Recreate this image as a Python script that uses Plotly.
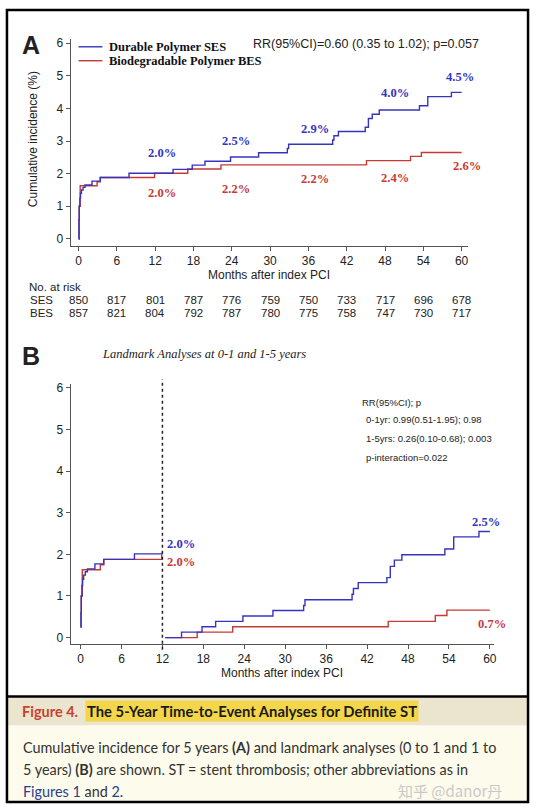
import plotly.graph_objects as go

W, H = 539, 809

# ---------------- data ----------------
months_ticks = [0, 6, 12, 18, 24, 30, 36, 42, 48, 54, 60]
at_risk_ses = [850, 817, 801, 787, 776, 759, 750, 733, 717, 696, 678]
at_risk_bes = [857, 821, 804, 792, 787, 780, 775, 758, 747, 730, 717]

# Panel A: 5-year cumulative incidence
ses_t_A = [0, 0.05, 0.1, 0.2, 0.3, 0.45, 0.7, 1.0, 2.1, 3.4, 7.9, 14.8, 17.8, 19.8, 23.8, 28.2,
           32.7, 32.9, 39.8, 40.0, 40.7, 44.9, 45.4, 46.0, 47.1, 53.4, 54.7, 58.4, 60]
ses_y_A = [0, 0.6, 1.0, 1.25, 1.4, 1.5, 1.58, 1.65, 1.77, 1.88, 2.01, 2.13, 2.26, 2.38, 2.51, 2.64,
           2.77, 2.90, 3.03, 3.16, 3.29, 3.42, 3.69, 3.82, 3.95, 4.08, 4.36, 4.49, 4.49]
bes_t_A = [0, 0.1, 0.25, 2.9, 3.4, 11.9, 17.1, 22.3, 45.1, 52.0, 53.7, 60]
bes_y_A = [0, 1.0, 1.63, 1.75, 1.88, 2.01, 2.14, 2.27, 2.40, 2.53, 2.65, 2.65]

# Panel B: landmark 0-1 year
ses_t_B1 = [0, 0.05, 0.1, 0.2, 0.3, 0.45, 0.7, 1.0, 2.1, 3.4, 7.9, 11.95, 12]
ses_y_B1 = [0.25, 0.6, 1.0, 1.25, 1.4, 1.5, 1.58, 1.65, 1.77, 1.88, 2.01, 2.03, 2.03]
bes_t_B1 = [0, 0.1, 0.25, 2.9, 3.4, 11.9, 12]
bes_y_B1 = [0.25, 1.0, 1.63, 1.75, 1.88, 1.98, 1.98]
# Panel B: landmark 1-5 years
ses_t_B2 = [12.4, 14.8, 17.8, 19.8, 23.8, 28.2, 32.7, 32.9, 39.8, 40.0, 40.7, 44.9, 45.4, 46.0,
            47.1, 53.4, 54.7, 58.4, 60]
ses_y_B2 = [0, 0.13, 0.26, 0.39, 0.52, 0.65, 0.77, 0.91, 1.04, 1.18, 1.32, 1.44, 1.71, 1.86,
            1.99, 2.13, 2.42, 2.55, 2.55]
bes_t_B2 = [12.4, 17.1, 22.3, 45.1, 52.0, 53.7, 60]
bes_y_B2 = [0, 0.13, 0.26, 0.39, 0.53, 0.66, 0.66]

# value labels (text, x, y)
labels_A_ses = [("2.0%", 13.1, 2.63), ("2.5%", 24.6, 3.01), ("2.9%", 37.0, 3.37),
                ("4.0%", 49.6, 4.47), ("4.5%", 59.8, 4.96)]
labels_A_bes = [("2.0%", 13.1, 1.40), ("2.2%", 24.6, 1.54), ("2.2%", 37.0, 1.84),
                ("2.4%", 49.6, 1.88), ("2.6%", 60.8, 2.24)]
labels_B = [("2.0%", 12.4, 2.25, "ses"), ("2.0%", 12.4, 1.82, "bes"),
            ("2.5%", 59.4, 2.77, "ses"), ("0.7%", 60.3, 0.33, "bes")]

BLUE = "#3434be"
RED = "#c53a35"
SANS = "Liberation Sans, Arial, sans-serif"
SERIF = "Liberation Serif, Times New Roman, serif"
CAP = "Lato, Open Sans, sans-serif"


def px(x):
    return x / W


def py(y):
    return 1 - y / H


fig = go.Figure()

lw = 1.4
# Panel A
fig.add_trace(go.Scatter(x=bes_t_A, y=bes_y_A, mode="lines", line=dict(color=RED, width=lw, shape="hv"),
                         xaxis="x", yaxis="y", showlegend=False))
fig.add_trace(go.Scatter(x=ses_t_A, y=ses_y_A, mode="lines", line=dict(color=BLUE, width=lw, shape="hv"),
                         xaxis="x", yaxis="y", showlegend=False))
# Panel B
for t, y, c in [(bes_t_B1, bes_y_B1, RED), (ses_t_B1, ses_y_B1, BLUE),
                (bes_t_B2, bes_y_B2, RED), (ses_t_B2, ses_y_B2, BLUE)]:
    fig.add_trace(go.Scatter(x=t, y=y, mode="lines", line=dict(color=c, width=lw, shape="hv"),
                             xaxis="x2", yaxis="y2", showlegend=False))

axis_common = dict(showline=True, linecolor="#555555", linewidth=1, ticks="outside", ticklen=4,
                   tickcolor="#555555", showgrid=False, zeroline=False,
                   tickfont=dict(family=SANS, size=12, color="#222222"))

fig.update_layout(
    width=W, height=H, margin=dict(l=0, r=0, t=0, b=0),
    paper_bgcolor="white", plot_bgcolor="white",
    xaxis=dict(domain=[px(71), px(471)], range=[-1.25, 61.06], tickvals=months_ticks,
               anchor="y", **axis_common),
    yaxis=dict(domain=[py(244), py(36)], range=[-0.21, 6.13], tickvals=[0, 1, 2, 3, 4, 5, 6],
               anchor="x", **axis_common),
    xaxis2=dict(domain=[px(71), px(497)], range=[-1.46, 60.64], tickvals=months_ticks,
                anchor="y2", **axis_common),
    yaxis2=dict(domain=[py(644), py(383)], range=[-0.15, 6.09], tickvals=[0, 1, 2, 3, 4, 5, 6],
                anchor="x2", **axis_common),
)

ann = []


def txt(text, x, y, size=12, family=SANS, color="#222222", xanchor="center", yanchor="middle",
        xref="paper", yref="paper", **kw):
    ann.append(dict(text=text, x=x, y=y, xref=xref, yref=yref, showarrow=False,
                    font=dict(size=size, family=family, color=color), xanchor=xanchor,
                    yanchor=yanchor, **kw))


# Panel letters
txt("<b>A</b>", px(31), py(42), size=25)
txt("<b>B</b>", px(31), py(355), size=25)

# Panel A legend
txt("<b>Durable Polymer SES</b>", px(108), py(44), size=12.5, family=SERIF, color="#111111", xanchor="left")
txt("<b>Biodegradable Polymer BES</b>", px(108), py(58), size=12.5, family=SERIF, color="#111111",
    xanchor="left")
txt("RR(95%CI)=0.60 (0.35 to 1.02); p=0.057", px(252), py(41), size=12.5, xanchor="left")

# axis titles
txt("Months after index PCI", px(271), py(273), size=12)
txt("Cumulative incidence (%)", px(34), py(137), size=12, textangle=-90)
txt("Months after index PCI", px(284), py(673), size=12)

# At-risk table
txt("No. at risk", px(28), py(285), size=11.5, xanchor="left", borderpad=0)
txt("SES", px(29), py(298.5), size=11.5, xanchor="left", borderpad=0)
txt("BES", px(29), py(312), size=11.5, xanchor="left", borderpad=0)
for m, s, b in zip(months_ticks, at_risk_ses, at_risk_bes):
    txt(str(s), m, py(298.5), size=11.5, xref="x", borderpad=0)
    txt(str(b), m, py(312), size=11.5, xref="x", borderpad=0)

# value labels A
for t, x, y in labels_A_ses:
    txt("<b>%s</b>" % t, x, y, size=12.5, family=SERIF, color=BLUE, xref="x", yref="y")
for t, x, y in labels_A_bes:
    txt("<b>%s</b>" % t, x, y, size=12.5, family=SERIF, color=RED, xref="x", yref="y")
for t, x, y, s in labels_B:
    txt("<b>%s</b>" % t, x, y, size=12.5, family=SERIF, color=BLUE if s == "ses" else RED,
        xref="x2", yref="y2", xanchor="left" if x < 20 else "center")

# Panel B title and stats
txt("<i>Landmark Analyses at 0-1 and 1-5 years</i>", px(101), py(353), size=12.5, family=SERIF,
    xanchor="left")
txt("RR(95%CI); p", px(362), py(401), size=9.5, xanchor="left")
txt("0-1yr: 0.99(0.51-1.95); 0.98", px(366), py(419), size=9.5, xanchor="left")
txt("1-5yrs: 0.26(0.10-0.68); 0.003", px(366), py(438), size=9.5, xanchor="left")
txt("p-interaction=0.022", px(366), py(457), size=9.5, xanchor="left")

# Caption
txt("<b>Figure 4.</b>", px(20), py(712), size=14.5, family=CAP, color="#c8432b", xanchor="left")
txt("<b>The 5-Year Time-to-Event Analyses for Definite ST</b>", px(85), py(712), size=14.8, family=CAP,
    color="#1a1a1a", xanchor="left", bgcolor="#f4d64a", borderpad=1)
txt("Cumulative incidence for 5 years <b>(A)</b> and landmark analyses (0 to 1 and 1 to",
    px(21), py(748), size=14.4, family=CAP, color="#333333", xanchor="left")
txt("5 years) <b>(B)</b> are shown. ST = stent thrombosis; other abbreviations as in",
    px(21), py(770), size=14.4, family=CAP, color="#333333", xanchor="left")
txt("<span style='color:#2a3f8f'>Figures 1</span> and <span style='color:#2a3f8f'>2</span>.",
    px(21), py(792), size=14.4, family=CAP, color="#333333", xanchor="left")
txt("知乎 @danor丹", px(398), py(791), size=15, family="Noto Sans CJK SC", color="#c9c9c9",
    xanchor="left")

fig.update_layout(annotations=ann)

shapes = [
    # caption backgrounds
    dict(type="rect", xref="paper", yref="paper", x0=px(7), x1=px(531), y0=py(726), y1=py(697),
         fillcolor="#ebe4cf", line=dict(width=0), layer="below"),
    dict(type="rect", xref="paper", yref="paper", x0=px(7), x1=px(531), y0=py(803), y1=py(726),
         fillcolor="#fdfbeb", line=dict(width=0), layer="below"),
    # separator
    dict(type="line", xref="paper", yref="paper", x0=px(7), x1=px(531), y0=py(697), y1=py(697),
         line=dict(color="black", width=2.5)),
    # frame
    dict(type="rect", xref="paper", yref="paper", x0=px(7), x1=px(531), y0=py(803), y1=py(7),
         line=dict(color="black", width=2.5)),
    # legend samples
    dict(type="line", xref="paper", yref="paper", x0=px(79), x1=px(103), y0=py(44), y1=py(44),
         line=dict(color=BLUE, width=1.4)),
    dict(type="line", xref="paper", yref="paper", x0=px(79), x1=px(103), y0=py(58), y1=py(58),
         line=dict(color=RED, width=1.4)),
    # landmark line
    dict(type="line", xref="x2", yref="paper", x0=12, x1=12, y0=py(650), y1=py(378),
         line=dict(color="#222222", width=1.5, dash="dot")),
]
fig.update_layout(shapes=shapes)

fig.write_html("out.html")
